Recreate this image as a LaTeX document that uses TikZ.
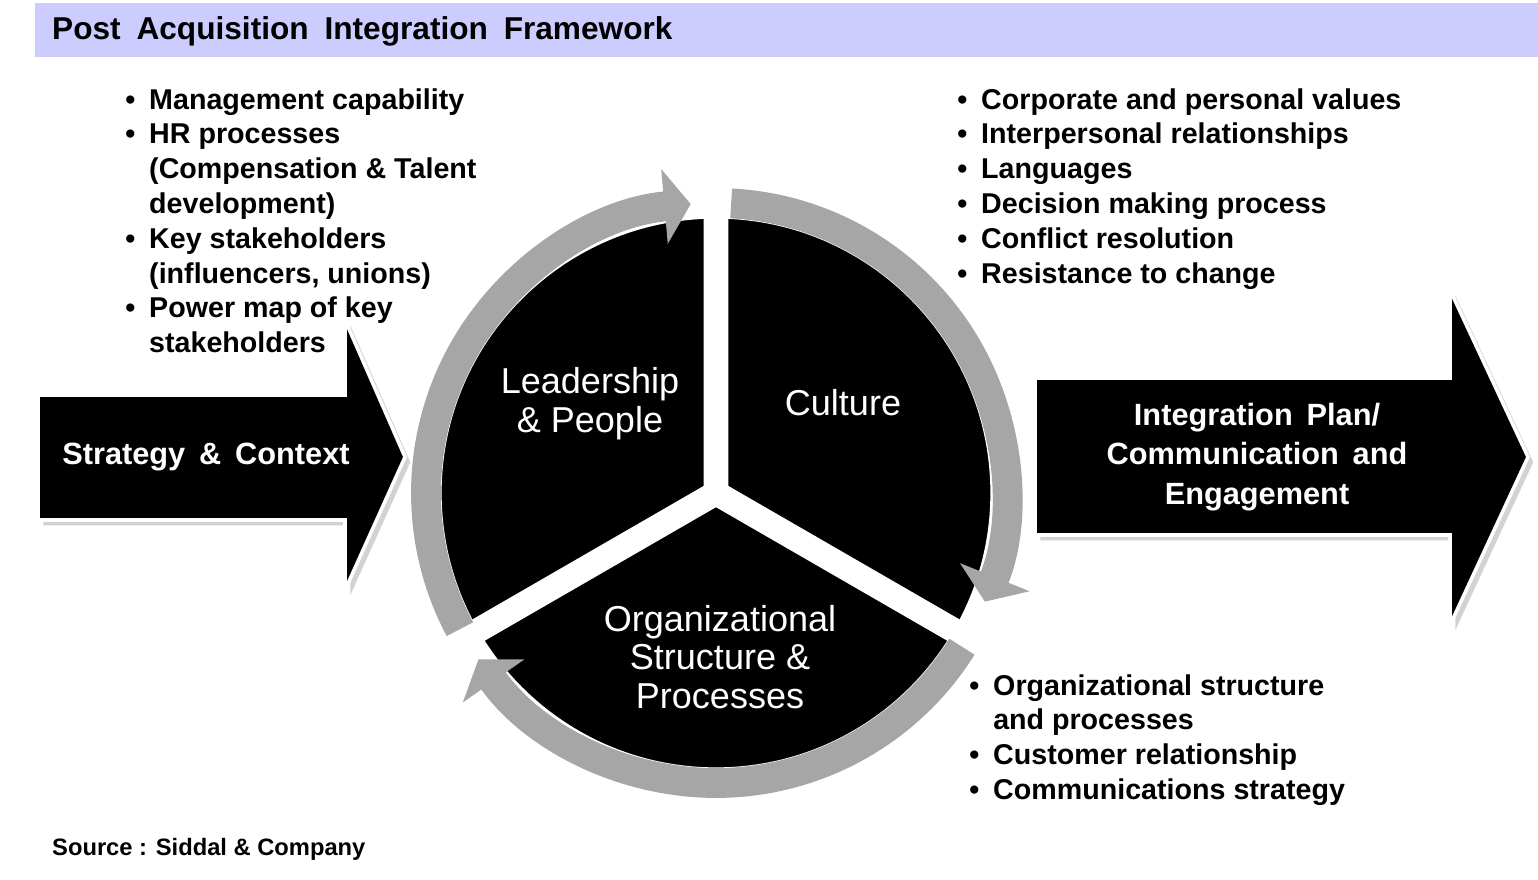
\documentclass[tikz,border=0pt]{standalone}
\usepackage{fontspec}
\setmainfont{Liberation Sans}
\usetikzlibrary{arrows.meta,shadows}
\newcommand{\wsp}[1]{\spaceskip=#1\relax}
\begin{document}
\begin{tikzpicture}[x=0.02cm,y=-0.02cm,
  lst/.style={anchor=north west,inner sep=0pt,font=\fontsize{16.3}{19.8}\selectfont\bfseries,align=left},
  ring/.style={draw=black!35,line width=17pt,-{Triangle[length=15pt,width=42pt]}},
  blk/.style={fill=black,draw=white,line width=2pt,drop shadow={shadow xshift=3pt,shadow yshift=-3pt,fill=black!35}},
  wt/.style={text=white,align=center}]
\newcommand{\bl}{\makebox[13.6pt][l]{\textbullet}}
\newcommand{\nb}{\makebox[13.6pt][l]{}}
\useasboundingbox (0,0) rectangle (1538,879);
\fill[fill={rgb,255:red,204;green,204;blue,255}] (35,3) rectangle (1538,57);
\node[anchor=west,font=\fontsize{18}{20}\selectfont\bfseries] (title) at (46,31) {\wsp{0.5em}Post Acquisition Integration Framework};
% circle
\coordinate (c) at (716,493);
\fill[black] (c) circle[radius=275];
\draw[white,line width=14pt] (c) -- ++(-90:280) (c) -- ++(-210:280) (c) -- ++(-330:280);
\draw[white,line width=3pt] (c) circle[radius=277];
\draw[ring] ([shift={(-208:290)}]c) arc[start angle=-208,end angle=-95,radius=290];
\draw[ring] ([shift={(-87:290)}]c) arc[start angle=-87,end angle=22,radius=290];
\draw[ring] ([shift={(32:290)}]c) arc[start angle=32,end angle=145,radius=290];
\node[wt,font=\fontsize{20.5}{22}\selectfont] (lp) at (590,404) {Leadership\\\& People};
\node[wt,font=\fontsize{20.5}{22}\selectfont] (cu) at (843,403) {Culture};
\node[wt,font=\fontsize{20.5}{22}\selectfont] (os) at (720,657) {Organizational\\Structure \&\\Processes};
% arrows
\path[blk] (38,395) -- (345,395) -- (345,320) -- (405,457) -- (345,590) -- (345,520) -- (38,520) -- cycle;
\node[wt,font=\fontsize{17.5}{20}\selectfont\bfseries] (sc) at (206,457) {\wsp{0.45em}Strategy \& Context};
\path[blk] (1035,378) -- (1450,378) -- (1450,290) -- (1528,457) -- (1450,625) -- (1450,535) -- (1035,535) -- cycle;
\node[wt,font=\fontsize{17.5}{22.7}\selectfont\bfseries] (ip) at (1257,457) {\wsp{0.45em}Integration Plan/\\\wsp{0.45em}Communication and\\Engagement};
% lists
\node[lst] (l1) at (125,88) {\bl Management capability\\\bl HR processes\\\nb (Compensation \& Talent\\\nb development)\\\bl Key stakeholders\\\nb (influencers, unions)\\\bl Power map of key\\\nb stakeholders};
\node[lst] (l2) at (957,88) {\bl Corporate and personal values\\\bl Interpersonal relationships\\\bl Languages\\\bl Decision making process\\\bl Conflict resolution\\\bl Resistance to change};
\node[lst] (l3) at (969,674) {\bl Organizational structure\\\nb and processes\\\bl Customer relationship\\\bl Communications strategy};
\node[anchor=west,font=\fontsize{13.5}{15}\selectfont\bfseries] (src) at (46,849) {Source : Siddal \& Company};
\end{tikzpicture}
\end{document}
